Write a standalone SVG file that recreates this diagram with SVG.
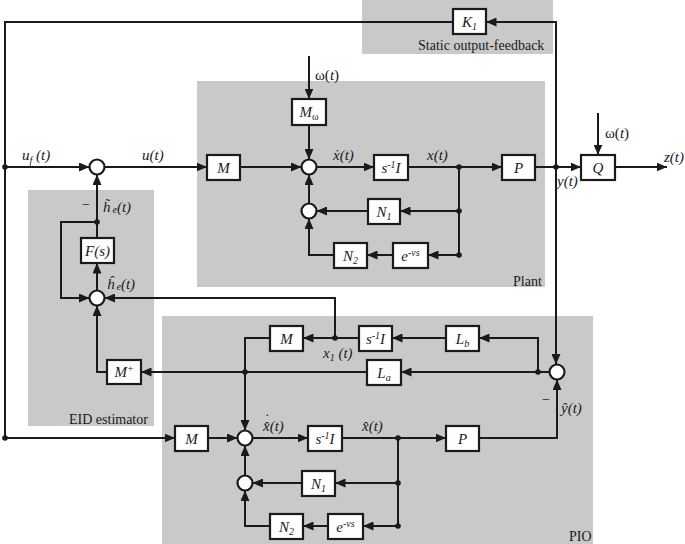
<svg xmlns="http://www.w3.org/2000/svg" width="685" height="544" viewBox="0 0 685 544">
<style>
.reg{fill:#c9c9c9}
.ln{stroke:#1a1a1a;stroke-width:2;fill:none}
.ar{stroke:#1a1a1a;stroke-width:2;fill:none;marker-end:url(#ah)}
.bx{fill:#fff;stroke:#1a1a1a;stroke-width:2.2}
.sum{fill:#fff;stroke:#1a1a1a;stroke-width:2.2}
.dot{fill:#1a1a1a}
.t{font-family:"Liberation Serif","Times New Roman",serif;font-style:italic;font-size:15px;fill:#1a1a1a}
.bt{font-family:"Liberation Serif","Times New Roman",serif;font-style:italic;font-size:15px;fill:#1a1a1a;text-anchor:middle}
.r{font-style:normal}
.sub{font-size:10px}
.lab{font-family:"Liberation Serif","Times New Roman",serif;font-size:14px;fill:#1a1a1a}
</style>
<defs>
<marker id="ah" markerUnits="userSpaceOnUse" markerWidth="11" markerHeight="9" refX="10.5" refY="4.5" orient="auto">
<path d="M0,0 L10.5,4.5 L0,9 z" fill="#1a1a1a"/>
</marker>
</defs>

<g id="regions">
<rect class="reg" x="362" y="0" width="191" height="54"/>
<rect class="reg" x="197" y="81" width="348" height="206"/>
<rect class="reg" x="28" y="190" width="126" height="236"/>
<rect class="reg" x="162" y="316" width="431" height="228"/>
<text class="lab" x="418" y="50">Static output-feedback</text>
<text class="lab" x="513" y="286">Plant</text>
<text class="lab" x="69" y="424">EID estimator</text>
<text class="lab" x="569" y="541">PIO</text>
</g>

<g id="connectors">
<polyline class="ln" points="453,22 5,22 5,438"/>
<line class="ar" x1="5" y1="167" x2="89.5" y2="167"/>
<line class="ar" x1="104.5" y1="167" x2="207" y2="167"/>
<line class="ar" x1="240" y1="167" x2="301.5" y2="167"/>
<line class="ar" x1="309" y1="56" x2="309" y2="99"/>
<line class="ar" x1="309" y1="125" x2="309" y2="159.5"/>
<line class="ar" x1="316.5" y1="167" x2="374" y2="167"/>
<line class="ar" x1="408" y1="167" x2="502" y2="167"/>
<line class="ln" x1="459" y1="167" x2="459" y2="255"/>
<line class="ar" x1="459" y1="211" x2="400" y2="211"/>
<line class="ar" x1="368" y1="211" x2="316.5" y2="211"/>
<line class="ar" x1="459" y1="255" x2="428" y2="255"/>
<line class="ar" x1="393" y1="255" x2="367" y2="255"/>
<polyline class="ar" points="334,255 309,255 309,218.5"/>
<line class="ar" x1="309" y1="203.5" x2="309" y2="174.5"/>
<line class="ar" x1="535" y1="167" x2="581" y2="167"/>
<polyline class="ar" points="556,167 556,22 486,22"/>
<line class="ar" x1="556" y1="167" x2="556" y2="364.5"/>
<line class="ar" x1="598" y1="113" x2="598" y2="155"/>
<line class="ar" x1="615" y1="167" x2="667" y2="167"/>

<line class="ar" x1="97" y1="238" x2="97" y2="174.5"/>
<polyline class="ar" points="97,222 61,222 61,298 89.5,298"/>
<line class="ar" x1="97" y1="290.5" x2="97" y2="263"/>
<polyline class="ar" points="335,338 335,298 104.5,298"/>
<polyline class="ar" points="107,372 97,372 97,305.5"/>

<polyline class="ar" points="538,372 538,338 479,338"/>
<line class="ar" x1="549.5" y1="372" x2="401" y2="372"/>
<line class="ar" x1="367" y1="372" x2="141" y2="372"/>
<line class="ar" x1="446" y1="338" x2="392" y2="338"/>
<line class="ar" x1="359" y1="338" x2="303" y2="338"/>
<polyline class="ar" points="270,338 245,338 245,430.5"/>
<line class="ar" x1="5" y1="438" x2="175" y2="438"/>
<line class="ar" x1="208" y1="438" x2="237.5" y2="438"/>
<line class="ar" x1="252.5" y1="438" x2="308" y2="438"/>
<line class="ar" x1="342" y1="438" x2="446" y2="438"/>
<line class="ln" x1="398" y1="438" x2="398" y2="526"/>
<line class="ar" x1="398" y1="483" x2="335" y2="483"/>
<line class="ar" x1="302" y1="483" x2="252.5" y2="483"/>
<line class="ar" x1="398" y1="526" x2="363" y2="526"/>
<line class="ar" x1="328" y1="526" x2="303" y2="526"/>
<polyline class="ar" points="270,526 245,526 245,490.5"/>
<line class="ar" x1="245" y1="475.5" x2="245" y2="445.5"/>
<polyline class="ar" points="479,438 557,438 557,379.5"/>

<circle class="dot" cx="5" cy="167" r="2.8"/>
<circle class="dot" cx="5" cy="438" r="2.8"/>
<circle class="dot" cx="459" cy="167" r="2.8"/>
<circle class="dot" cx="459" cy="211" r="2.8"/>
<circle class="dot" cx="459" cy="255" r="2.8"/>
<circle class="dot" cx="556" cy="167" r="2.8"/>
<circle class="dot" cx="97" cy="222" r="2.8"/>
<circle class="dot" cx="335" cy="338" r="2.8"/>
<circle class="dot" cx="245" cy="372" r="2.8"/>
<circle class="dot" cx="538" cy="372" r="2.8"/>
<circle class="dot" cx="398" cy="438" r="2.8"/>
<circle class="dot" cx="398" cy="483" r="2.8"/>
<circle class="dot" cx="398" cy="526" r="2.8"/>

<text class="t" x="22" y="160">u<tspan class="sub" dy="4">f</tspan><tspan dy="-4"> (t)</tspan></text>
<text class="t" x="142" y="160">u(t)</text>
<text class="t" x="315" y="80"><tspan class="r">ω(</tspan>t<tspan class="r">)</tspan></text>
<text class="t" x="333" y="160">ẋ(t)</text>
<text class="t" x="427" y="160">x(t)</text>
<text class="t" x="557" y="186">y(t)</text>
<text class="t" x="605" y="138"><tspan class="r">ω(</tspan>t<tspan class="r">)</tspan></text>
<text class="t" x="664" y="162">z(t)</text>
<text class="lab" x="82" y="209">−</text>
<text class="t" x="103" y="212">h̃<tspan class="sub" dx="2" dy="1">e</tspan><tspan dy="-1">(t)</tspan></text>
<text class="t" x="107" y="289">ĥ<tspan class="sub" dx="2" dy="1">e</tspan><tspan dy="-1">(t)</tspan></text>
<text class="t" x="323" y="358">x<tspan class="sub" dy="3">1</tspan><tspan dy="-3"> (t)</tspan></text>
<text class="t" x="263" y="431">x̂<tspan class="r" dx="-5" dy="-7">˙</tspan><tspan dy="7">(t)</tspan></text>
<text class="t" x="362" y="431">x̂(t)</text>
<text class="lab" x="542" y="404">−</text>
<text class="t" x="561" y="413">ŷ(t)</text>
</g>

<g id="K1"><rect class="bx" x="453" y="9" width="33" height="25"/><text class="bt" x="469.5" y="27">K<tspan class="sub" dy="3">1</tspan></text></g>
<g id="Mw"><rect class="bx" x="292" y="99" width="34" height="26"/><text class="bt" x="309" y="117">M<tspan class="sub r" dy="3">ω</tspan></text></g>
<g id="M_plant"><rect class="bx" x="207" y="155" width="33" height="25"/><text class="bt" x="223.5" y="173">M</text></g>
<g id="sum_plant"><circle class="sum" cx="309" cy="167" r="7.5"/></g>
<g id="integ_plant"><rect class="bx" x="374" y="155" width="34" height="25"/><text class="bt" x="391" y="173">s<tspan class="sub" dy="-5">-1</tspan><tspan dy="5">I</tspan></text></g>
<g id="sum_plant2"><circle class="sum" cx="309" cy="211" r="7.5"/></g>
<g id="N1_plant"><rect class="bx" x="368" y="199" width="32" height="25"/><text class="bt" x="384" y="217">N<tspan class="sub" dy="3">1</tspan></text></g>
<g id="N2_plant"><rect class="bx" x="334" y="243" width="33" height="25"/><text class="bt" x="350.5" y="261">N<tspan class="sub" dy="3">2</tspan></text></g>
<g id="delay_plant"><rect class="bx" x="393" y="243" width="35" height="25"/><text class="bt" x="410.5" y="261">e<tspan class="sub" dy="-5">-vs</tspan></text></g>
<g id="P_plant"><rect class="bx" x="502" y="155" width="33" height="25"/><text class="bt" x="518.5" y="173">P</text></g>
<g id="Q"><rect class="bx" x="581" y="155" width="34" height="25"/><text class="bt" x="598" y="173">Q</text></g>

<g id="sum1"><circle class="sum" cx="97" cy="167" r="7.5"/></g>
<g id="Fs"><rect class="bx" x="81" y="238" width="33" height="25"/><text class="bt" x="97.5" y="256">F(s)</text></g>
<g id="sum_eid"><circle class="sum" cx="97" cy="298" r="7.5"/></g>
<g id="Mplus"><rect class="bx" x="107" y="360" width="34" height="24"/><text class="bt" x="124" y="377">M<tspan class="sub" dy="-5">+</tspan></text></g>

<g id="M_pio_top"><rect class="bx" x="270" y="326" width="33" height="25"/><text class="bt" x="286.5" y="344">M</text></g>
<g id="integ_pio_top"><rect class="bx" x="359" y="326" width="33" height="25"/><text class="bt" x="375.5" y="344">s<tspan class="sub" dy="-5">-1</tspan><tspan dy="5">I</tspan></text></g>
<g id="Lb"><rect class="bx" x="446" y="326" width="33" height="25"/><text class="bt" x="462.5" y="344">L<tspan class="sub" dy="3">b</tspan></text></g>
<g id="La"><rect class="bx" x="367" y="360" width="34" height="25"/><text class="bt" x="384" y="378">L<tspan class="sub" dy="3">a</tspan></text></g>
<g id="sum_y"><circle class="sum" cx="557" cy="372" r="7.5"/></g>
<g id="M_pio"><rect class="bx" x="175" y="426" width="33" height="25"/><text class="bt" x="191.5" y="444">M</text></g>
<g id="sum_pio"><circle class="sum" cx="245" cy="438" r="7.5"/></g>
<g id="integ_pio"><rect class="bx" x="308" y="426" width="34" height="25"/><text class="bt" x="325" y="444">s<tspan class="sub" dy="-5">-1</tspan><tspan dy="5">I</tspan></text></g>
<g id="P_pio"><rect class="bx" x="446" y="426" width="33" height="25"/><text class="bt" x="462.5" y="444">P</text></g>
<g id="sum_pio2"><circle class="sum" cx="245" cy="483" r="7.5"/></g>
<g id="N1_pio"><rect class="bx" x="302" y="471" width="33" height="25"/><text class="bt" x="318.5" y="489">N<tspan class="sub" dy="3">1</tspan></text></g>
<g id="N2_pio"><rect class="bx" x="270" y="514" width="33" height="25"/><text class="bt" x="286.5" y="532">N<tspan class="sub" dy="3">2</tspan></text></g>
<g id="delay_pio"><rect class="bx" x="328" y="514" width="35" height="25"/><text class="bt" x="345.5" y="532">e<tspan class="sub" dy="-5">-vs</tspan></text></g>
</svg>
